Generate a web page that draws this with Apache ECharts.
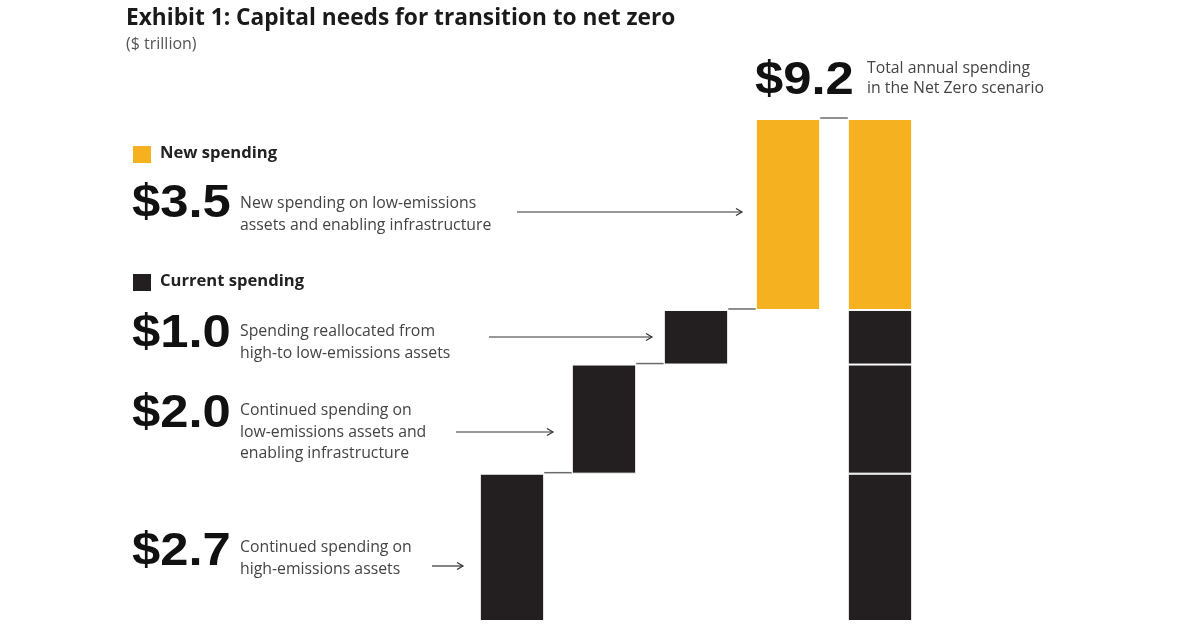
<!DOCTYPE html>
<html lang="en">
<head>
    <meta charset="UTF-8">
    <title>Capital needs for transition to net zero</title>
    <script src="https://cdn.jsdelivr.net/npm/echarts@6/dist/echarts.min.js"></script>
    <style>
        html, body { margin: 0; padding: 0; background: #fff; }
        #chart { width: 1200px; height: 630px; }
    </style>
</head>
<body>
    <div id="chart"></div>
    <script>
        // waterfall steps, bottom to top
        var stepNames = ['High-emissions', 'Low-emissions', 'Reallocated', 'New', 'Total'];
        var stepValues = [2.7, 2.0, 1.0, 3.5];
        var stepGroup = ['current', 'current', 'current', 'new'];
        var totalValue = 9.2;

        var colBlack = '#231f20';
        var colYellow = '#f5b120';

        // running base for each floating bar
        var bases = [];
        var run = 0;
        stepValues.forEach(function (v) { bases.push(run); run += v; });
        var tops = bases.map(function (b, i) { return b + stepValues[i]; });

        var series = [{
            type: 'bar',
            stack: 'w',
            silent: true,
            itemStyle: { color: 'transparent' },
            data: bases.concat([0])
        }];
        // one series per step: floating bar + its segment in the total column
        stepValues.forEach(function (v, i) {
            var d = stepNames.map(function () { return '-'; });
            d[i] = v;
            d[4] = v;
            series.push({
                type: 'bar',
                stack: 'w',
                barWidth: '70%',
                itemStyle: {
                    color: stepGroup[i] === 'new' ? colYellow : colBlack,
                    borderColor: '#fff',
                    borderWidth: 1
                },
                data: d
            });
        });
        // connector lines between bar tops
        series.push({
            type: 'custom',
            silent: true,
            data: tops.map(function (t, i) { return [i, t]; }),
            renderItem: function (params, api) {
                var i = api.value(0), v = api.value(1);
                var half = api.size([1, 0])[0] * 0.35;
                var a = api.coord([i, v]);
                var b = api.coord([i + 1, v]);
                return {
                    type: 'line',
                    shape: { x1: a[0] + half, y1: a[1] - 1, x2: b[0] - half, y2: a[1] - 1 },
                    style: { stroke: '#6b6b6b', lineWidth: 1.5 }
                };
            }
        });

        var big = { fontFamily: 'Liberation Sans', fontWeight: 'bold', fontSize: 47, fill: '#111' };
        var desc = { fontFamily: 'Open Sans', fontSize: 15.8, fill: '#444', lineHeight: 21.5 };
        var head = { fontFamily: 'Open Sans', fontWeight: 'bold', fontSize: 16.6, fill: '#222' };

        function arrow(x1, x2, y) {
            return [
                { type: 'line', shape: { x1: x1, y1: y, x2: x2, y2: y }, style: { stroke: '#333', lineWidth: 1.2 } },
                { type: 'polyline', shape: { points: [[x2 - 6, y - 3.5], [x2, y], [x2 - 6, y + 3.5]] }, style: { stroke: '#333', lineWidth: 1.2, fill: null } }
            ];
        }
        function bigNum(x, y, v) {
            return { type: 'text', x: x, y: y, scaleX: 1.08, style: Object.assign({ text: '$' + v.toFixed(1) }, big) };
        }

        var graphics = [
            { type: 'text', left: 126, top: 7, style: { text: 'Exhibit 1: Capital needs for transition to net zero', fontFamily: 'Open Sans', fontWeight: 'bold', fontSize: 22.7, fill: '#1a1a1a' } },
            { type: 'text', left: 126, top: 36, style: { text: '($ trillion)', fontFamily: 'Open Sans', fontSize: 16, fill: '#555' } },

            bigNum(755, 58, totalValue),
            { type: 'text', left: 867, top: 58, style: Object.assign({ text: 'Total annual spending\nin the Net Zero scenario' }, desc, { lineHeight: 20 }) },

            { type: 'rect', shape: { x: 133, y: 146, width: 18, height: 17 }, style: { fill: colYellow } },
            { type: 'text', left: 160, top: 145, style: Object.assign({ text: 'New spending' }, head) },
            { type: 'rect', shape: { x: 133, y: 274, width: 18, height: 17 }, style: { fill: colBlack } },
            { type: 'text', left: 160, top: 273, style: Object.assign({ text: 'Current spending' }, head) },

            bigNum(132, 181, stepValues[3]),
            { type: 'text', left: 240, top: 193, style: Object.assign({ text: 'New spending on low-emissions\nassets and enabling infrastructure' }, desc) },
            bigNum(132, 311, stepValues[2]),
            { type: 'text', left: 240, top: 321, style: Object.assign({ text: 'Spending reallocated from\nhigh-to low-emissions assets' }, desc) },
            bigNum(132, 391, stepValues[1]),
            { type: 'text', left: 240, top: 400, style: Object.assign({ text: 'Continued spending on\nlow-emissions assets and\nenabling infrastructure' }, desc) },
            bigNum(132, 529, stepValues[0]),
            { type: 'text', left: 240, top: 537, style: Object.assign({ text: 'Continued spending on\nhigh-emissions assets' }, desc) }
        ].concat(arrow(517, 742, 212), arrow(489, 652, 337), arrow(456, 553, 432), arrow(432, 463, 566));

        var chart = echarts.init(document.getElementById('chart'));
        chart.setOption({
            animation: false,
            grid: { left: 466, right: 274, top: 119, bottom: 9 },
            xAxis: {
                type: 'category',
                data: stepNames,
                axisLine: { show: false },
                axisTick: { show: false },
                axisLabel: { show: false }
            },
            yAxis: {
                type: 'value',
                min: 0,
                max: totalValue,
                show: false
            },
            graphic: graphics,
            series: series
        });
    </script>
</body>
</html>
